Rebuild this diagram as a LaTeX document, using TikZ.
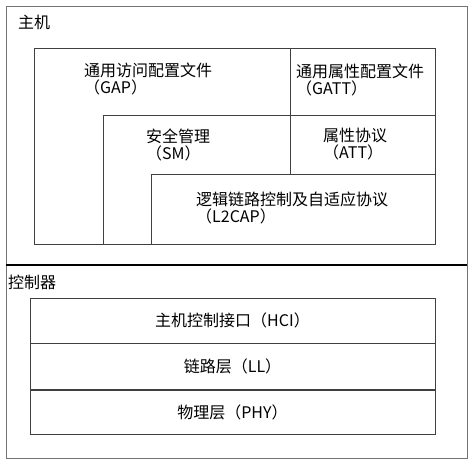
\documentclass[tikz,border=0pt]{standalone}
\usepackage{fontspec}
\newfontfamily\cjk{Noto Sans CJK SC}
\usetikzlibrary{positioning}

\begin{document}
\begin{tikzpicture}[x=1pt, y=-1pt, inner sep=0pt]

    \tikzstyle{frame}=[draw=black!55, line width=0.9pt]
    \tikzstyle{box}=[draw=black!75, line width=0.8pt]
    \tikzstyle{lbl}=[font=\cjk\fontsize{16}{17}\selectfont, text=black, align=left, anchor=west]
    \tikzstyle{layer}=[rectangle, draw=black!75, line width=0.8pt, minimum width=405pt, font=\cjk\fontsize{16}{17}\selectfont, text=black]

    \useasboundingbox (0,0) rectangle (474,462);
    \fill[white] (0,0) rectangle (474,462);

    % host part
    \draw[frame] (6,6) rectangle (467,458);
    \draw[line width=1.6pt] (6,265) -- (467,265);
    \node[lbl] (host) at (18,22) {主机};

    \draw[box] (34,48) rectangle (435,244);
    \draw[box] (290,48) -- (290,174);
    \draw[box] (103,244) -- (103,115) -- (435,115);
    \draw[box] (151,244) -- (151,174) -- (435,174);

    \node[lbl] (gap) at (84,79) {通用访问配置文件\\（GAP）};
    \node[lbl] (gatt) at (296,80) {通用属性配置文件\\（GATT）};
    \node[lbl] (sm) at (146,145) {安全管理\\（SM）};
    \node[lbl] (att) at (323,144) {属性协议\\（ATT）};
    \node[lbl] (l2cap) at (196,208) {逻辑链路控制及自适应协议\\（L2CAP）};

    % controller part
    \node[lbl] (ctrl) at (8,282) {控制器};
    \node[layer, minimum height=45pt] (hci) at (232.5,320.5) {主机控制接口（HCI）};
    \node[layer, minimum height=46pt, below=0pt of hci] (ll) {链路层（LL）};
    \node[layer, minimum height=44pt, below=0pt of ll] (phy) {物理层（PHY）};
  \end{tikzpicture}
\end{document}
